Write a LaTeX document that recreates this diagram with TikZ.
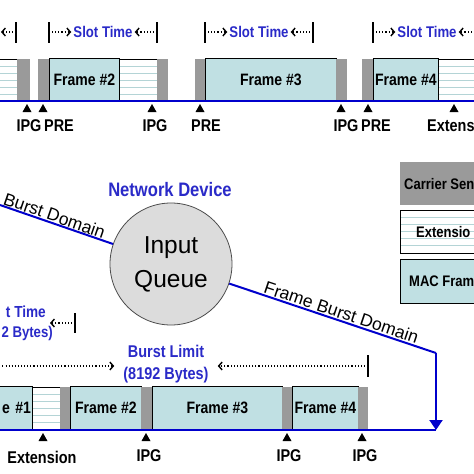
\documentclass[tikz,border=0pt]{standalone}
\usepackage{fontspec}
\setmainfont[FakeStretch=0.85]{Liberation Sans}
\newfontfamily\plainfont{Liberation Sans}
\usetikzlibrary{arrows.meta}

\definecolor{framecol}{HTML}{C0E0E3}
\definecolor{ipgcol}{HTML}{9A9A9A}
\definecolor{buscol}{HTML}{0000CC}
\definecolor{textblue}{HTML}{2A2AC8}
\definecolor{stripecol}{HTML}{B4D4D6}
\definecolor{queuecol}{HTML}{DCDCDC}

% Caja de extension con rayas
\newcommand{\extbox}[4]{%
  \fill[white] (#1,#2) rectangle (#3,#4);
  \foreach \k in {1,...,5}
    \draw[stripecol, line width=0.8pt] (#1,{#2+\k*(#4-#2)/6}) -- (#3,{#2+\k*(#4-#2)/6});
  \draw[line width=0.8pt] (#1,#2) rectangle (#3,#4);
}

\tikzset{
  frame/.style={draw=black, line width=0.8pt, fill=framecol, inner sep=0pt,
    anchor=south west, font=\bfseries\fontsize{16.5}{18}\selectfont},
  gap/.style={fill=ipgcol},
  bus/.style={draw=buscol, line width=2pt},
  slotbar/.style={line width=1.3pt},
  lbl/.style={inner sep=0pt, font=\bfseries\fontsize{17}{19}\selectfont},
  bluelbl/.style={inner sep=0pt, text=textblue, font=\bfseries\fontsize{15.5}{17}\selectfont},
  dotarrow/.style={dotted, line width=1.1pt, shorten >=2pt,
    -{Straight Barb[length=3.5pt, width=8pt, line width=1.4pt]}},
  legend/.style={inner sep=0pt, anchor=west, font=\bfseries\fontsize{15.3}{17}\selectfont}
}

\begin{document}
\begin{tikzpicture}[x=1pt, y=-1pt]
  \useasboundingbox (0,0) rectangle (474,474);
  \fill[white] (0,0) rectangle (474,474);
  \clip (0,0) rectangle (474,474);

  % Fila de arriba: tramas
  \extbox{-10}{59}{17}{101}
  \fill[gap] (17,59) rectangle (30,101);
  \fill[gap] (38,59) rectangle (49,101);
  \node[frame, minimum width=70pt, minimum height=42pt] (tf2) at (49,101) {Frame \#2};
  \extbox{119}{59}{157}{101}
  \fill[gap] (157,59) rectangle (168,101);
  \fill[gap] (195,59) rectangle (205,101);
  \node[frame, minimum width=131pt, minimum height=42pt] (tf3) at (205,101) {Frame \#3};
  \fill[gap] (336,59) rectangle (347,101);
  \fill[gap] (362,59) rectangle (373,101);
  \node[frame, minimum width=65pt, minimum height=42pt] (tf4) at (373,101) {Frame \#4};
  \extbox{438}{59}{490}{101}
  \coordinate (tbl) at (0,101);
  \coordinate (tbr) at (474,101);
  \draw[bus] (tbl) -- (tbr);

  % Marcas de arriba
  \foreach \x in {27,43,152,200,341,368,454}
    \fill (\x,104) -- ++(4.5,8) -- ++(-9,0) -- cycle;
  \node[lbl] (ipg1) at (29,126) {IPG};
  \node[lbl] (pre1) at (59,126) {PRE};
  \node[lbl] (ipg2) at (155,126) {IPG};
  \node[lbl] (pre2) at (206,126) {PRE};
  \node[lbl] (ipg3) at (346,126) {IPG};
  \node[lbl] (pre3) at (376,126) {PRE};
  \node[lbl, anchor=west] (ext1) at (427,126) {Extens};

  % Slot Time
  \foreach \x in {16,49,157,205,313,373}
    \draw[slotbar] (\x,22) -- (\x,43);
  \coordinate (s0b) at (16,32);
  \coordinate (s0e) at (1,32);
  \draw[dotarrow, shorten >=0pt] (s0b) -- (s0e);
  \node[bluelbl] (st1) at (103,32) {Slot Time};
  \coordinate (s1a) at (49,32);
  \coordinate (s1b) at (157,32);
  \draw[dotarrow] (s1a) -- (st1.west);
  \draw[dotarrow] (s1b) -- (st1.east);
  \node[bluelbl] (st2) at (259,32) {Slot Time};
  \coordinate (s2a) at (205,32);
  \coordinate (s2b) at (313,32);
  \draw[dotarrow] (s2a) -- (st2.west);
  \draw[dotarrow] (s2b) -- (st2.east);
  \node[bluelbl] (st3) at (427,32) {Slot Time};
  \coordinate (s3a) at (373,32);
  \coordinate (s3b) at (481,32);
  \draw[dotarrow] (s3a) -- (st3.west);
  \draw[dotarrow] (s3b) -- (st3.east);

  % Dispositivo de red
  \node[text=textblue, font=\bfseries\fontsize{19.5}{22}\selectfont] (nd) at (170,190) {Network Device};
  \node[circle, draw=black!70, line width=0.8pt, fill=queuecol, minimum size=122pt,
    inner sep=0pt, align=center, font=\plainfont\fontsize{24.5}{34}\selectfont] (q) at (171,264) {Input\\Queue};
  \coordinate (bdl) at (0,205);
  \draw[bus] (bdl) -- (q) node[pos=0.46, sloped, above=0.5pt, inner sep=0pt,
    font=\plainfont\fontsize{17.5}{19}\selectfont] (bd) {Burst Domain};
  \coordinate (corner) at (436,353);
  \coordinate (busend) at (436,430);
  \draw[bus] (q) -- (corner) node[pos=0.53, sloped, above=1pt, inner sep=0pt,
    font=\plainfont\fontsize{17.5}{19}\selectfont] (fbd) {Frame Burst Domain};
  \draw[bus, -{Triangle[length=10pt, width=13pt]}] (corner) -- (busend);

  % Leyenda
  \fill[ipgcol] (400,162) rectangle (490,205);
  \node[legend] (lcs) at (404,184) {Carrier Sen};
  \extbox{400}{210}{490}{253}
  \node[legend] (lext) at (416,232) {Extensio};
  \draw[fill=framecol, line width=0.8pt] (400,259) rectangle (490,303);
  \node[legend] (lmac) at (409,281) {MAC Fram};

  % Fila de abajo: limites
  \node[bluelbl, anchor=east, font=\bfseries\fontsize{16}{18}\selectfont] (bst) at (46,312) {t Time};
  \node[bluelbl, anchor=east, font=\bfseries\fontsize{15.5}{18}\selectfont] (bsb) at (53,333) {2 Bytes)};
  \draw[slotbar] (75,313) -- (75,333);
  \coordinate (bt) at (75,323);
  \coordinate (bte) at (50,323);
  \draw[dotarrow, shorten >=0pt] (bt) -- (bte);
  \node[bluelbl, align=center, font=\bfseries\fontsize{17}{22}\selectfont] (bl) at (166,364) {Burst Limit\\(8192 Bytes)};
  \coordinate (bla) at (-10,366);
  \coordinate (blb) at (368,366);
  \draw[slotbar] (368,355) -- (368,377);
  \draw[dotarrow, shorten >=9pt] (bla) -- (bl.west |- bla);
  \draw[dotarrow, shorten >=9pt] (blb) -- (bl.east |- blb);

  % Fila de abajo: tramas
  \node[frame, minimum width=42pt, minimum height=43pt, text width=39pt, align=right] (bf1) at (-10,430) {e \#1};
  \extbox{32}{387}{60}{430}
  \fill[gap] (60,387) rectangle (70,430);
  \node[frame, minimum width=71pt, minimum height=43pt] (bf2) at (70,430) {Frame \#2};
  \fill[gap] (141,387) rectangle (152,430);
  \node[frame, minimum width=130pt, minimum height=43pt] (bf3) at (152,430) {Frame \#3};
  \fill[gap] (282,387) rectangle (292,430);
  \node[frame, minimum width=66pt, minimum height=43pt] (bf4) at (292,430) {Frame \#4};
  \fill[gap] (358,387) rectangle (368,430);
  \coordinate (bbl) at (0,430);
  \draw[bus] (bbl) -- (busend);

  % Marcas de abajo
  \foreach \x in {43,146,287,362}
    \fill (\x,433) -- ++(4.5,8) -- ++(-9,0) -- cycle;
  \node[lbl] (bext) at (42,457) {Extension};
  \node[lbl] (bipg1) at (149,456) {IPG};
  \node[lbl] (bipg2) at (289,456) {IPG};
  \node[lbl] (bipg3) at (365,456) {IPG};
\end{tikzpicture}
\end{document}
